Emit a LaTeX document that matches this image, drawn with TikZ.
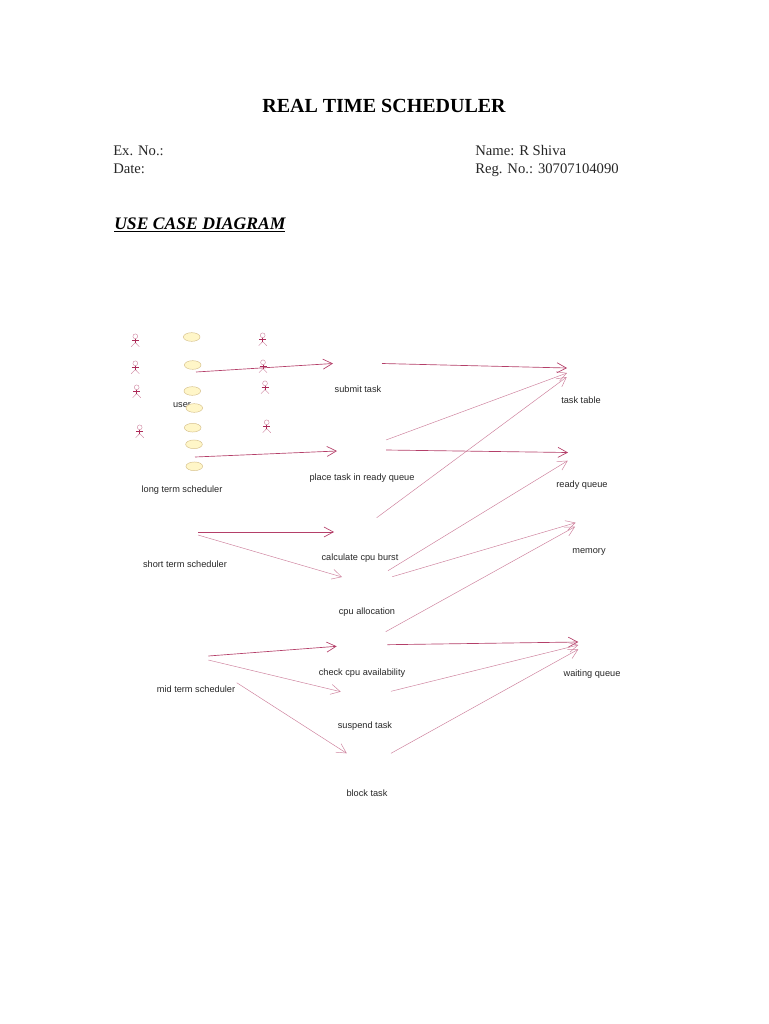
\documentclass[tikz,border=0pt]{standalone}
\usepackage{fontspec}
\setmainfont{Liberation Serif}
\setsansfont{Liberation Sans}
\usepackage{tikz}
\usetikzlibrary{arrows.meta,shapes.geometric}
\definecolor{umlline}{RGB}{172,42,88}
\definecolor{umlfill}{RGB}{255,246,200}
\definecolor{umledge}{RGB}{214,192,140}
\tikzset{
	assoc/.style={draw=umlline!60, line width=0.35pt, -{Straight Barb[length=7pt,width=7.5pt]}},
	assocdark/.style={assoc, draw=umlline!90, line width=0.5pt},
	lbl/.style={font=\sffamily\fontsize{6.9}{8}\selectfont, inner sep=0pt, text=black!85, text height=5pt, text depth=1.5pt, yshift=-0.75pt},
	doc/.style={font=\fontsize{11}{13}\selectfont, inner sep=0pt, anchor=west, text=black!85, text height=8pt, text depth=2.5pt, yshift=-1.2pt},
	usecase/.style={ellipse, draw=umledge, fill=umlfill, line width=0.35pt, minimum width=12.5pt, minimum height=6.5pt, inner sep=0pt},
}
\newcommand{\actorfig}[3]{%
	\coordinate (#1) at (#2, #3);
	\draw[umlline!60, line width=0.3pt] (#2, #3-3.7) circle (2.4);
	\draw[umlline!60, line width=0.3pt] (#2, #3+2.5) -- (#2-4, #3+6.7) (#2, #3+2.5) -- (#2+4, #3+6.7);
	\draw[umlline, line width=0.6pt] (#2, #3-1.3) -- (#2, #3+2.5) (#2-3.5, #3) -- (#2+3.5, #3);
}
\begin{document}
\begin{tikzpicture}[x=0.75pt, y=-0.75pt]
	\useasboundingbox (0, 0) rectangle (768, 1024);
	%% heading
	\node[font=\bfseries\fontsize{15}{17}\selectfont, inner sep=0pt] (title) at (384, 105.5) {REAL TIME SCHEDULER};
	\node[doc] (exno) at (113, 150) {Ex. No.:};
	\node[doc] (date) at (113, 168) {Date:};
	\node[doc] (name) at (475, 150) {Name: R Shiva};
	\node[doc] (regno) at (475, 168) {Reg. No.: 30707104090};
	\node[font=\bfseries\itshape\fontsize{13.2}{16}\selectfont, inner sep=0pt, anchor=west] (heading) at (114, 225) {\underline{USE CASE DIAGRAM}};
	%% labels
	\node[lbl] (user) at (182, 404) {user};
	\node[lbl] (longterm) at (182, 489) {long term scheduler};
	\node[lbl] (shortterm) at (185, 564) {short term scheduler};
	\node[lbl] (midterm) at (196, 689) {mid term scheduler};
	\node[lbl] (submit) at (358, 389) {submit task};
	\node[lbl] (place) at (362, 477) {place task in ready queue};
	\node[lbl] (burst) at (360, 557) {calculate cpu burst};
	\node[lbl] (alloc) at (367, 611) {cpu allocation};
	\node[lbl] (check) at (362, 672) {check cpu availability};
	\node[lbl] (suspend) at (365, 725) {suspend task};
	\node[lbl] (block) at (367, 793) {block task};
	\node[lbl] (tasktable) at (581, 400) {task table};
	\node[lbl] (readyq) at (582, 484) {ready queue};
	\node[lbl] (memory) at (589, 550) {memory};
	\node[lbl] (waitq) at (592, 673) {waiting queue};
	%% stray use cases
	\foreach \n/\x/\y in {a/191.7/337, b/192.7/365, c/192.3/391, d/194.3/408, e/192.7/427.7, f/194/444.3, g/194.3/466.3}
		\node[usecase] (case\n) at (\x, \y) {};
	%% stray actors
	\actorfig{acta}{135.3}{340}
	\actorfig{actb}{135.3}{367}
	\actorfig{actc}{136.7}{391}
	\actorfig{actd}{139.7}{431}
	\actorfig{acte}{262.7}{339}
	\actorfig{actf}{263}{366}
	\actorfig{actg}{265}{387}
	\actorfig{acth}{266.7}{426}
	%% connector ends
	\coordinate (userout) at (196, 372);
	\coordinate (longout) at (195, 457);
	\coordinate (shortout) at (198, 532);
	\coordinate (shortoutb) at (198, 535);
	\coordinate (midout) at (208.3, 656);
	\coordinate (midoutb) at (208.3, 660);
	\coordinate (midoutc) at (236.7, 682.7);
	\coordinate (submitin) at (333, 363.5);
	\coordinate (submitout) at (382, 363.5);
	\coordinate (placein) at (337, 451);
	\coordinate (placeout) at (386, 440);
	\coordinate (placeoutb) at (386, 450);
	\coordinate (burstin) at (334, 532);
	\coordinate (burstout) at (376.7, 517.7);
	\coordinate (burstoutb) at (388, 570.7);
	\coordinate (allocin) at (342, 577);
	\coordinate (allocout) at (392.3, 576.7);
	\coordinate (checkin) at (336.7, 646.3);
	\coordinate (checkout) at (385.7, 631.7);
	\coordinate (checkoutb) at (387.3, 644.7);
	\coordinate (suspendin) at (340.7, 691.7);
	\coordinate (suspendout) at (391, 691.3);
	\coordinate (blockin) at (346.7, 753.3);
	\coordinate (blockout) at (391, 753.3);
	\coordinate (tablein) at (567, 368);
	\coordinate (tableinb) at (567, 373);
	\coordinate (tableinc) at (566.7, 377);
	\coordinate (readyin) at (568, 452.5);
	\coordinate (readyinb) at (567.7, 460.7);
	\coordinate (memin) at (575.7, 522.7);
	\coordinate (meminb) at (575, 526.7);
	\coordinate (waitin) at (578.3, 642);
	\coordinate (waitinb) at (578.3, 645);
	\coordinate (waitinc) at (578.3, 649.3);
	%% associations
	\draw[assocdark] (userout) -- (submitin);
	\draw[assocdark] (longout) -- (placein);
	\draw[assocdark] (shortout) -- (burstin);
	\draw[assoc] (shortoutb) -- (allocin);
	\draw[assocdark] (midout) -- (checkin);
	\draw[assoc] (midoutb) -- (suspendin);
	\draw[assoc] (midoutc) -- (blockin);
	%%
	\draw[assocdark] (submitout) -- (tablein);
	\draw[assoc] (placeout) -- (tableinb);
	\draw[assoc] (burstout) -- (tableinc);
	\draw[assocdark] (placeoutb) -- (readyin);
	\draw[assoc] (burstoutb) -- (readyinb);
	\draw[assoc] (allocout) -- (memin);
	\draw[assoc] (checkout) -- (meminb);
	\draw[assocdark] (checkoutb) -- (waitin);
	\draw[assoc] (suspendout) -- (waitinb);
	\draw[assoc] (blockout) -- (waitinc);
\end{tikzpicture}
\end{document}
